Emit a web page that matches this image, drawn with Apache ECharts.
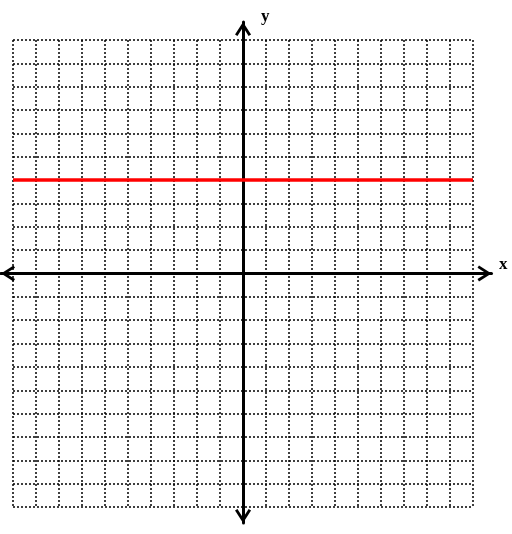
<!DOCTYPE html>
<html><head><meta charset="utf-8">
<script src="https://cdn.jsdelivr.net/npm/echarts@6/dist/echarts.min.js"></script>
<style>html,body{margin:0;padding:0;background:#fff}#c{width:512px;height:534px}</style>
</head><body><div id="c"></div>
<script>
// Axis ranges and gridline spacing
const xRange = [-10, 10];
const yRange = [-10, 10];
const gridStep = 1;
// Horizontal red line y = 4
const redLineY = 4;
const redLineX = [-10, 10];
// Axis arrow extents (in data units, extending past the grid)
const xAxisArrowEnds = [-10.52, 10.80];
const yAxisArrowEnds = [-10.69, 10.77];
const axisNames = { x: 'x', y: 'y' };

const chevron = 'path://M8,0 L16,12.5 L13.6,14 L8,5.2 L2.4,14 L0,12.5 Z';

const chart = echarts.init(document.getElementById('c'), null, { renderer: 'canvas' });
const gridLine = { show: true, lineStyle: { color: '#000', type: [2, 2], width: 1.5 } };
const hidden = { axisTick: { show: false }, axisLabel: { show: false } };
const arrowLine = {
  show: true, onZero: true,
  symbol: [chevron, chevron], symbolSize: [16, 14], symbolOffset: [7, -7],
  lineStyle: { color: '#000', width: 3 }
};
chart.setOption({
  animation: false,
  backgroundColor: '#fff',
  grid: [
    { left: 13, right: 39, top: 40, bottom: 27 },
    { left: 1, right: 20.5, top: 22, bottom: 11 }
  ],
  xAxis: [
    { type: 'value', gridIndex: 0, min: xRange[0], max: xRange[1], interval: gridStep,
      axisLine: { show: false }, ...hidden, splitLine: gridLine },
    { type: 'value', gridIndex: 1, min: xAxisArrowEnds[0], max: xAxisArrowEnds[1],
      axisLine: arrowLine, ...hidden, splitLine: { show: false } }
  ],
  yAxis: [
    { type: 'value', gridIndex: 0, min: yRange[0], max: yRange[1], interval: gridStep,
      axisLine: { show: false }, ...hidden, splitLine: gridLine },
    { type: 'value', gridIndex: 1, min: yAxisArrowEnds[0], max: yAxisArrowEnds[1],
      axisLine: arrowLine, ...hidden, splitLine: { show: false } }
  ],
  series: [
    {
      type: 'line', symbol: 'none', z: 6, xAxisIndex: 0, yAxisIndex: 0,
      data: redLineX.map(x => [x, redLineY]),
      lineStyle: { color: '#ff0000', width: 3.5 }
    }
  ],
  graphic: [
    { type: 'text', x: 261, y: 8, style: { text: axisNames.y, font: 'bold 17px "Liberation Serif"', fill: '#000' } },
    { type: 'text', x: 499, y: 256, style: { text: axisNames.x, font: 'bold 17px "Liberation Serif"', fill: '#000' } }
  ]
});
</script></body></html>
